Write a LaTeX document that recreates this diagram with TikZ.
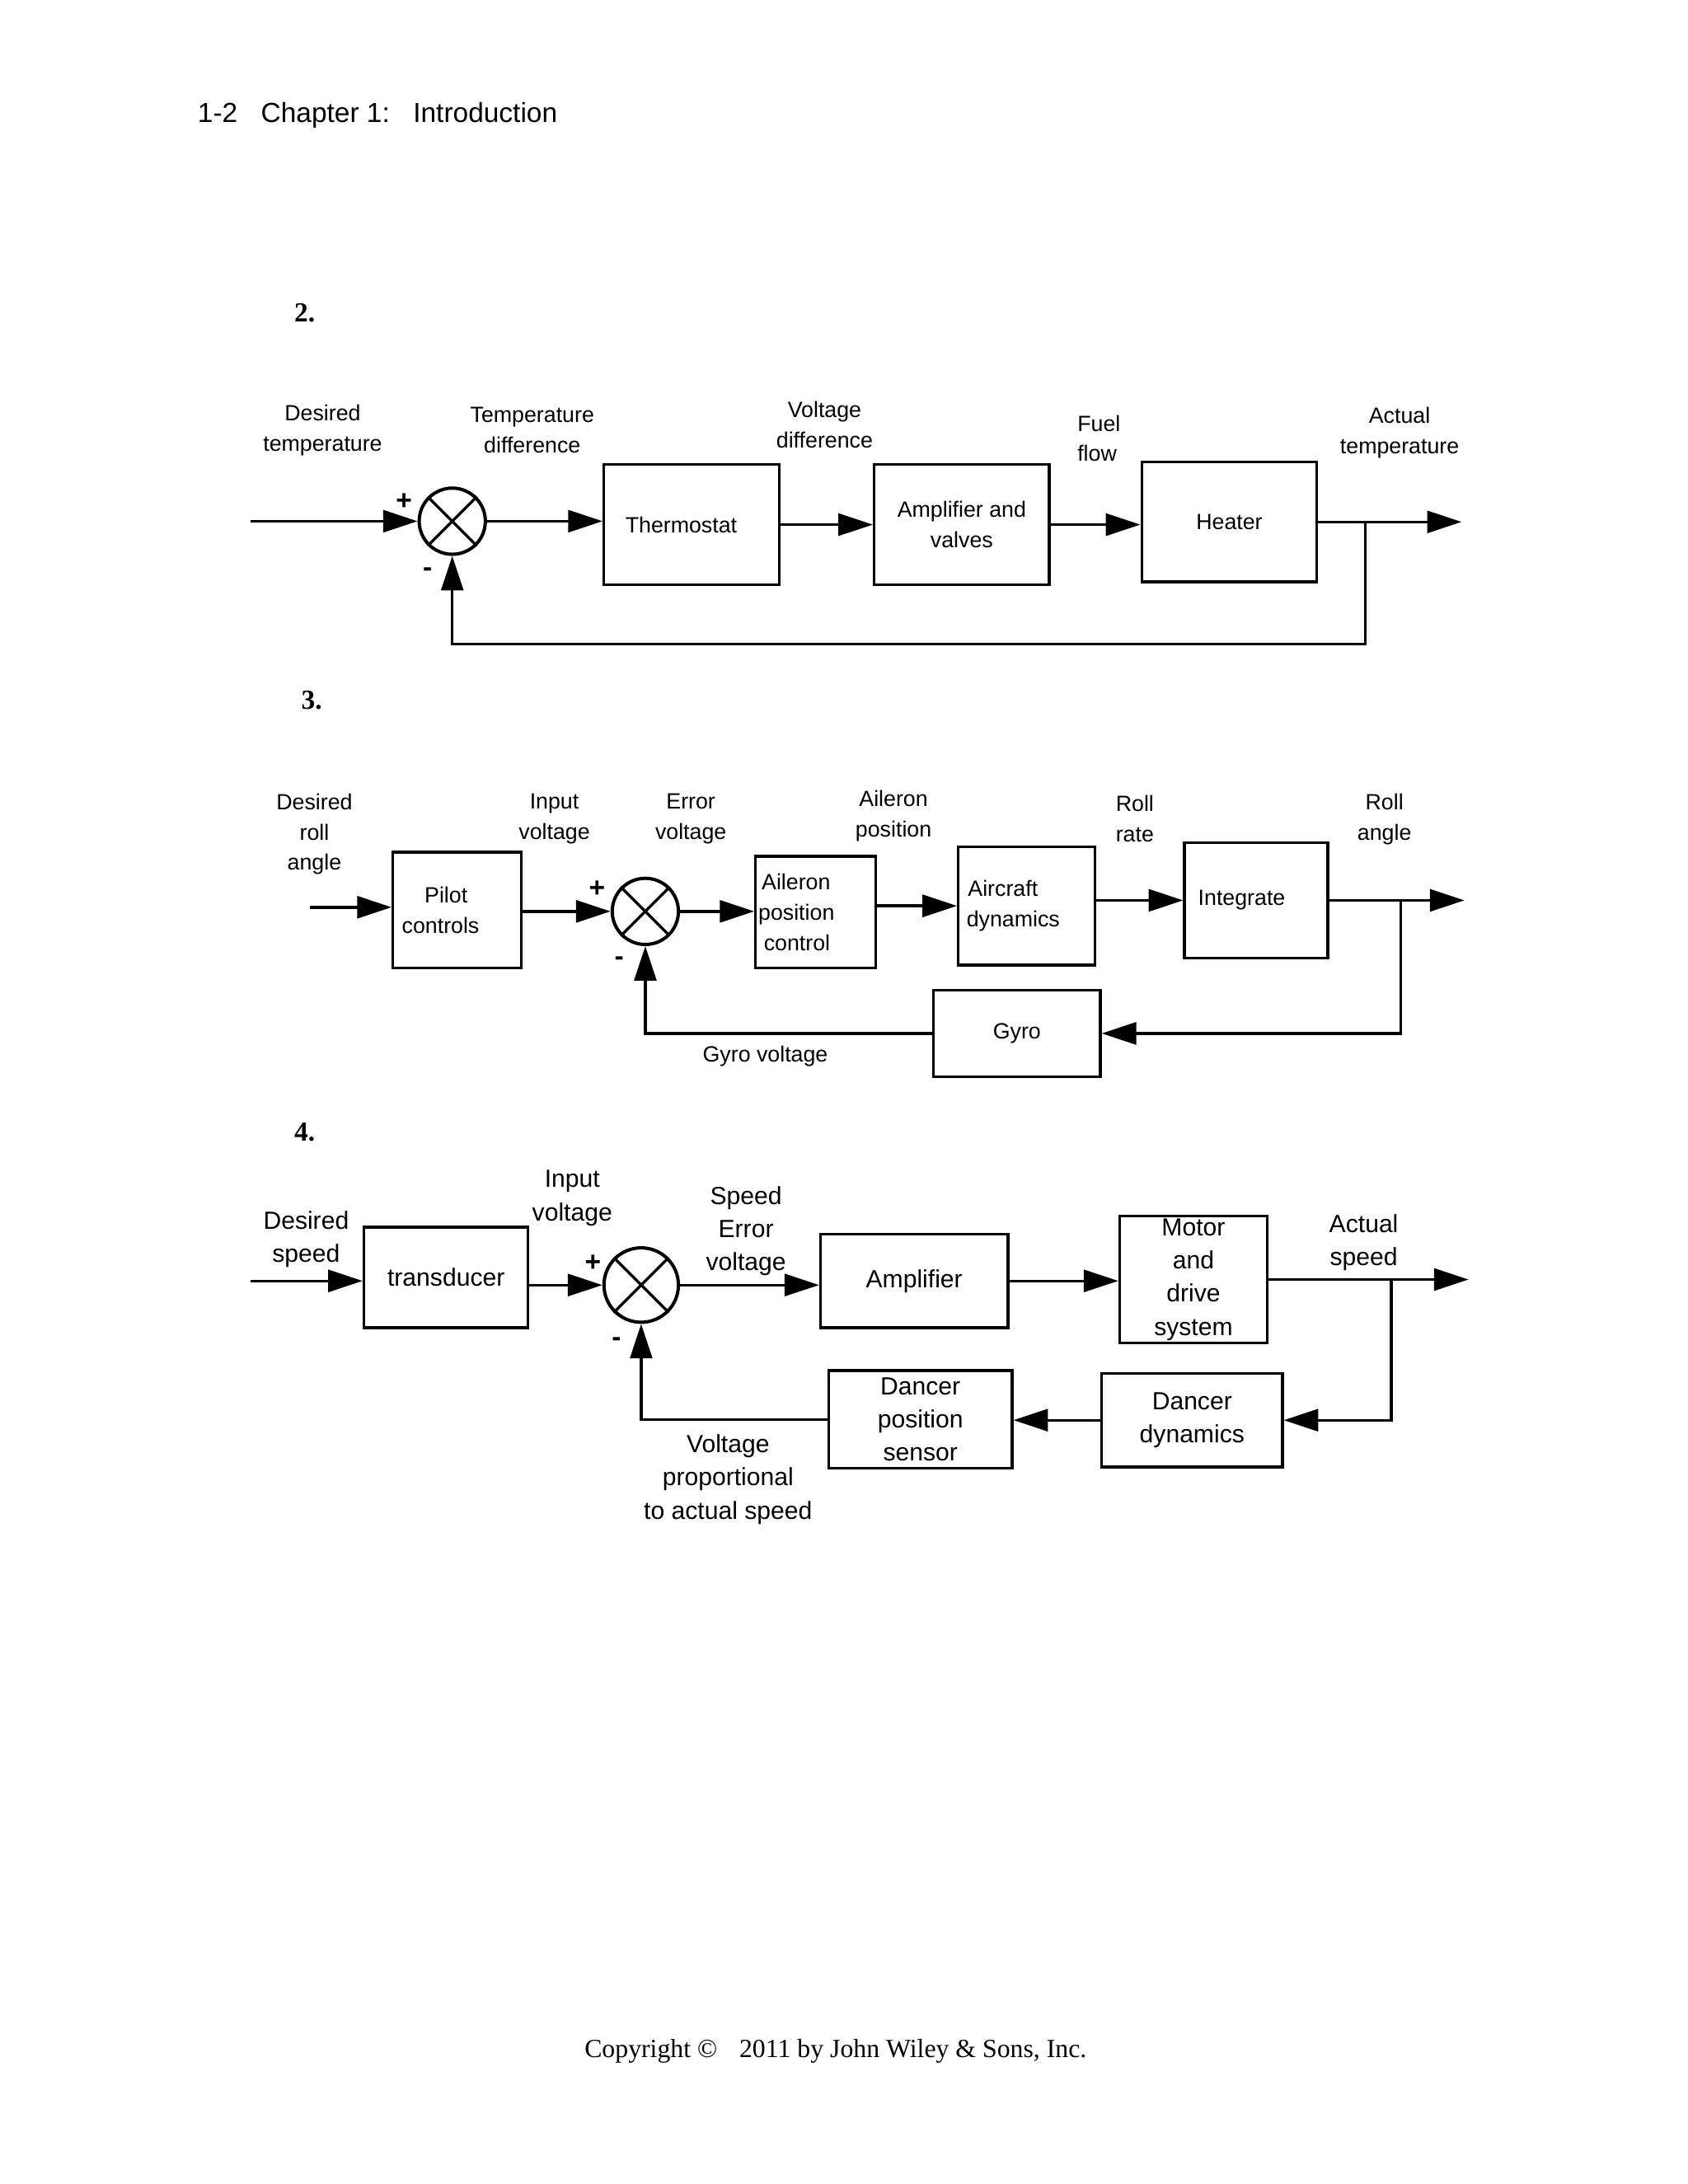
\documentclass[tikz,border=0pt]{standalone}
\usepackage{fontspec}
\setmainfont{Liberation Serif}
\newfontfamily\arialfam{Liberation Sans}
\usetikzlibrary{arrows.meta}
\newcommand\ftwo{\arialfam\fontsize{8bp}{11bp}\selectfont}
\newcommand\ffour{\arialfam\fontsize{9bp}{12bp}\selectfont}
\tikzset{
  blk/.style={draw, line width=1bp, inner sep=0pt, align=center, font=\ftwo},
  blkf/.style={blk, font=\ffour},
  sumj/.style={draw, circle, line width=1.2bp, inner sep=0pt},
  arr/.style={line width=1bp, -{Triangle[length=12.5bp, width=8bp]}},
  ln/.style={line width=1bp},
  lbl/.style={align=center, inner sep=0pt, font=\ftwo},
  lblf/.style={align=center, inner sep=0pt, font=\ffour},
  sgn/.style={inner sep=0pt, font=\arialfam\fontsize{10bp}{10bp}\selectfont\bfseries},
  sec/.style={inner sep=0pt, font=\fontsize{10bp}{12bp}\selectfont\bfseries},
}
\begin{document}
\begin{tikzpicture}[x=0.5bp, y=-0.5bp]
\fill[white] (0,0) rectangle (1224,1584);
\useasboundingbox (0,0) rectangle (1224,1584);

% header and footer
\node[anchor=base west, inner sep=0pt, font=\arialfam\fontsize{10bp}{12bp}\selectfont] (hdr) at (143,89)
  {1-2\hspace{8.5bp}Chapter 1:\hspace{8.5bp}Introduction};
\node[anchor=base, inner sep=0pt, font=\fontsize{9.5bp}{12bp}\selectfont] (cpy) at (606,1492)
  {Copyright \textcopyright\hspace{8bp}2011 by John Wiley \& Sons, Inc.};

% ---------------- Problem 2 ----------------
\node[sec] (n2) at (221,227) {2.};
\coordinate (in2) at (182,378);
\node[sumj, minimum size=24bp] (s2) at (328,378) {};
\draw[ln] (s2.north east) -- (s2.south west) (s2.north west) -- (s2.south east);
\node[blk, minimum width=63.5bp, minimum height=43.5bp] (thermo) at (501.5,380.5) {Thermostat\hspace*{7.5bp}};
\node[blk, minimum width=63.5bp, minimum height=43.5bp] (ampv) at (697.5,380.5) {Amplifier and\\valves};
\node[blk, minimum width=63.5bp, minimum height=43.5bp] (heater) at (891.5,378.5) {Heater};
\coordinate (out2) at (1060,378.5);
\coordinate (tap2) at (990,378.5);
\coordinate (fb2) at (328,467);

\draw[arr] (in2) -- (s2.west);
\draw[arr] (s2.east) -- (s2.east -| thermo.west);
\draw[arr] (thermo.east) -- (ampv.west);
\draw[arr] (ampv.east) -- (ampv.east -| heater.west);
\draw[arr] (heater.east) -- (out2);
\draw[arr] (tap2) |- (fb2) -- (s2.south);

\node[sgn] (p2) at (293,364) {+};
\node[sgn] (m2) at (310,415) {-};
\node[lbl] (l2a) at (234,312) {Desired\\temperature};
\node[lbl] (l2b) at (386,312) {Temperature\\difference};
\node[lbl] (l2c) at (598,308) {Voltage\\difference};
\node[lbl, anchor=west, align=left] (l2d) at (781,318) {Fuel\\flow};
\node[lbl] (l2e) at (1015,314) {Actual\\temperature};

% ---------------- Problem 3 ----------------
\node[sec] (n3) at (226,508) {3.};
\coordinate (in3) at (225,658);
\node[blk, minimum width=46.5bp, minimum height=42bp] (pilot) at (331.5,660) {Pilot\hspace*{8bp}\\controls\hspace*{12bp}};
\node[sumj, minimum size=24bp] (s3) at (468,661) {};
\draw[ln] (s3.north east) -- (s3.south west) (s3.north west) -- (s3.south east);
\node[blk, minimum width=43.5bp, minimum height=40.5bp, text width=41.5bp, inner xsep=1bp, align=left] (ail) at (591.5,661.5)
  {\hspace*{1.2bp}Aileron\\position\\\hspace*{2bp}control};
\node[blk, minimum width=49.5bp, minimum height=43bp, text width=46.5bp, align=left, inner xsep=1.5bp] (acd) at (744.5,657) {\hspace*{2bp}Aircraft\\\hspace*{1.5bp}dynamics};
\node[blk, minimum width=52bp, minimum height=42bp] (integ) at (911,653) {Integrate\hspace*{10.5bp}};
\node[blk, minimum width=60.5bp, minimum height=31.5bp] (gyro) at (737.5,749.5) {Gyro};
\coordinate (out3) at (1062,653);
\coordinate (tap3) at (1016,653);

\draw[arr] (in3) -- (in3 -| pilot.west);
\draw[arr] (pilot.east |- s3) -- (s3.west);
\draw[arr] (s3.east) -- (s3.east -| ail.west);
\draw[arr] (ail.east |- acd.west) -- (acd.west);
\draw[arr] (acd.east |- integ.west) -- (integ.west);
\draw[arr] (integ.east) -- (out3);
\draw[arr] (tap3) |- (gyro.east);
\draw[arr] (gyro.west) -| (s3.south);

\node[sgn] (p3) at (433,645) {+};
\node[sgn] (m3) at (449,697) {-};
\node[lbl] (l3a) at (228,605) {Desired\\roll\\angle};
\node[lbl] (l3b) at (402,594) {Input\\voltage};
\node[lbl] (l3c) at (501,594) {Error\\voltage};
\node[lbl] (l3d) at (648,592) {Aileron\\position};
\node[lbl] (l3e) at (823,594) {Roll\\rate};
\node[lbl] (l3f) at (1004,594) {Roll\\angle};
\node[lbl] (l3g) at (555,766) {Gyro voltage};

% ---------------- Problem 4 ----------------
\node[sec] (n4) at (221,821) {4.};
\coordinate (in4) at (182,929);
\node[blkf, minimum width=59.5bp, minimum height=36.5bp] (trans) at (323.5,926.5) {transducer};
\node[sumj, minimum size=27bp] (s4) at (465,932) {};
\draw[ln] (s4.north east) -- (s4.south west) (s4.north west) -- (s4.south east);
\node[blkf, minimum width=68bp, minimum height=34bp] (amp4) at (663,929) {Amplifier};
\node[blkf, minimum width=53.5bp, minimum height=46bp] (motor) at (865.5,928) {Motor\\and\\drive\\system};
\node[blkf, minimum width=65.5bp, minimum height=34bp] (ddyn) at (864.5,1030) {Dancer\\dynamics};
\node[blkf, minimum width=66.5bp, minimum height=35.5bp] (dps) at (667.5,1029.5) {Dancer\\position\\sensor};
\coordinate (out4) at (1065,928);
\coordinate (tap4) at (1009,928);

\draw[arr] (in4) -- (in4 -| trans.west);
\draw[arr] (trans.east |- s4) -- (s4.west);
\draw[arr] (s4.east) -- (s4.east -| amp4.west);
\draw[arr] (amp4.east) -- (amp4.east -| motor.west);
\draw[arr] (motor.east) -- (out4);
\draw[arr] (tap4) |- (ddyn.east);
\draw[arr] (ddyn.west) -- (ddyn.west -| dps.east);
\draw[arr] (dps.west) -| (s4.south);

\node[sgn] (p4) at (430,916) {+};
\node[sgn] (m4) at (447,973) {-};
\node[lblf] (l4a) at (222,899) {Desired\\speed};
\node[lblf] (l4b) at (415,869) {Input\\voltage};
\node[lblf] (l4c) at (541,893) {Speed\\Error\\voltage};
\node[lblf] (l4d) at (989,901) {Actual\\speed};
\node[lblf] (l4e) at (528,1073) {Voltage\\proportional\\to actual speed};
\end{tikzpicture}
\end{document}
